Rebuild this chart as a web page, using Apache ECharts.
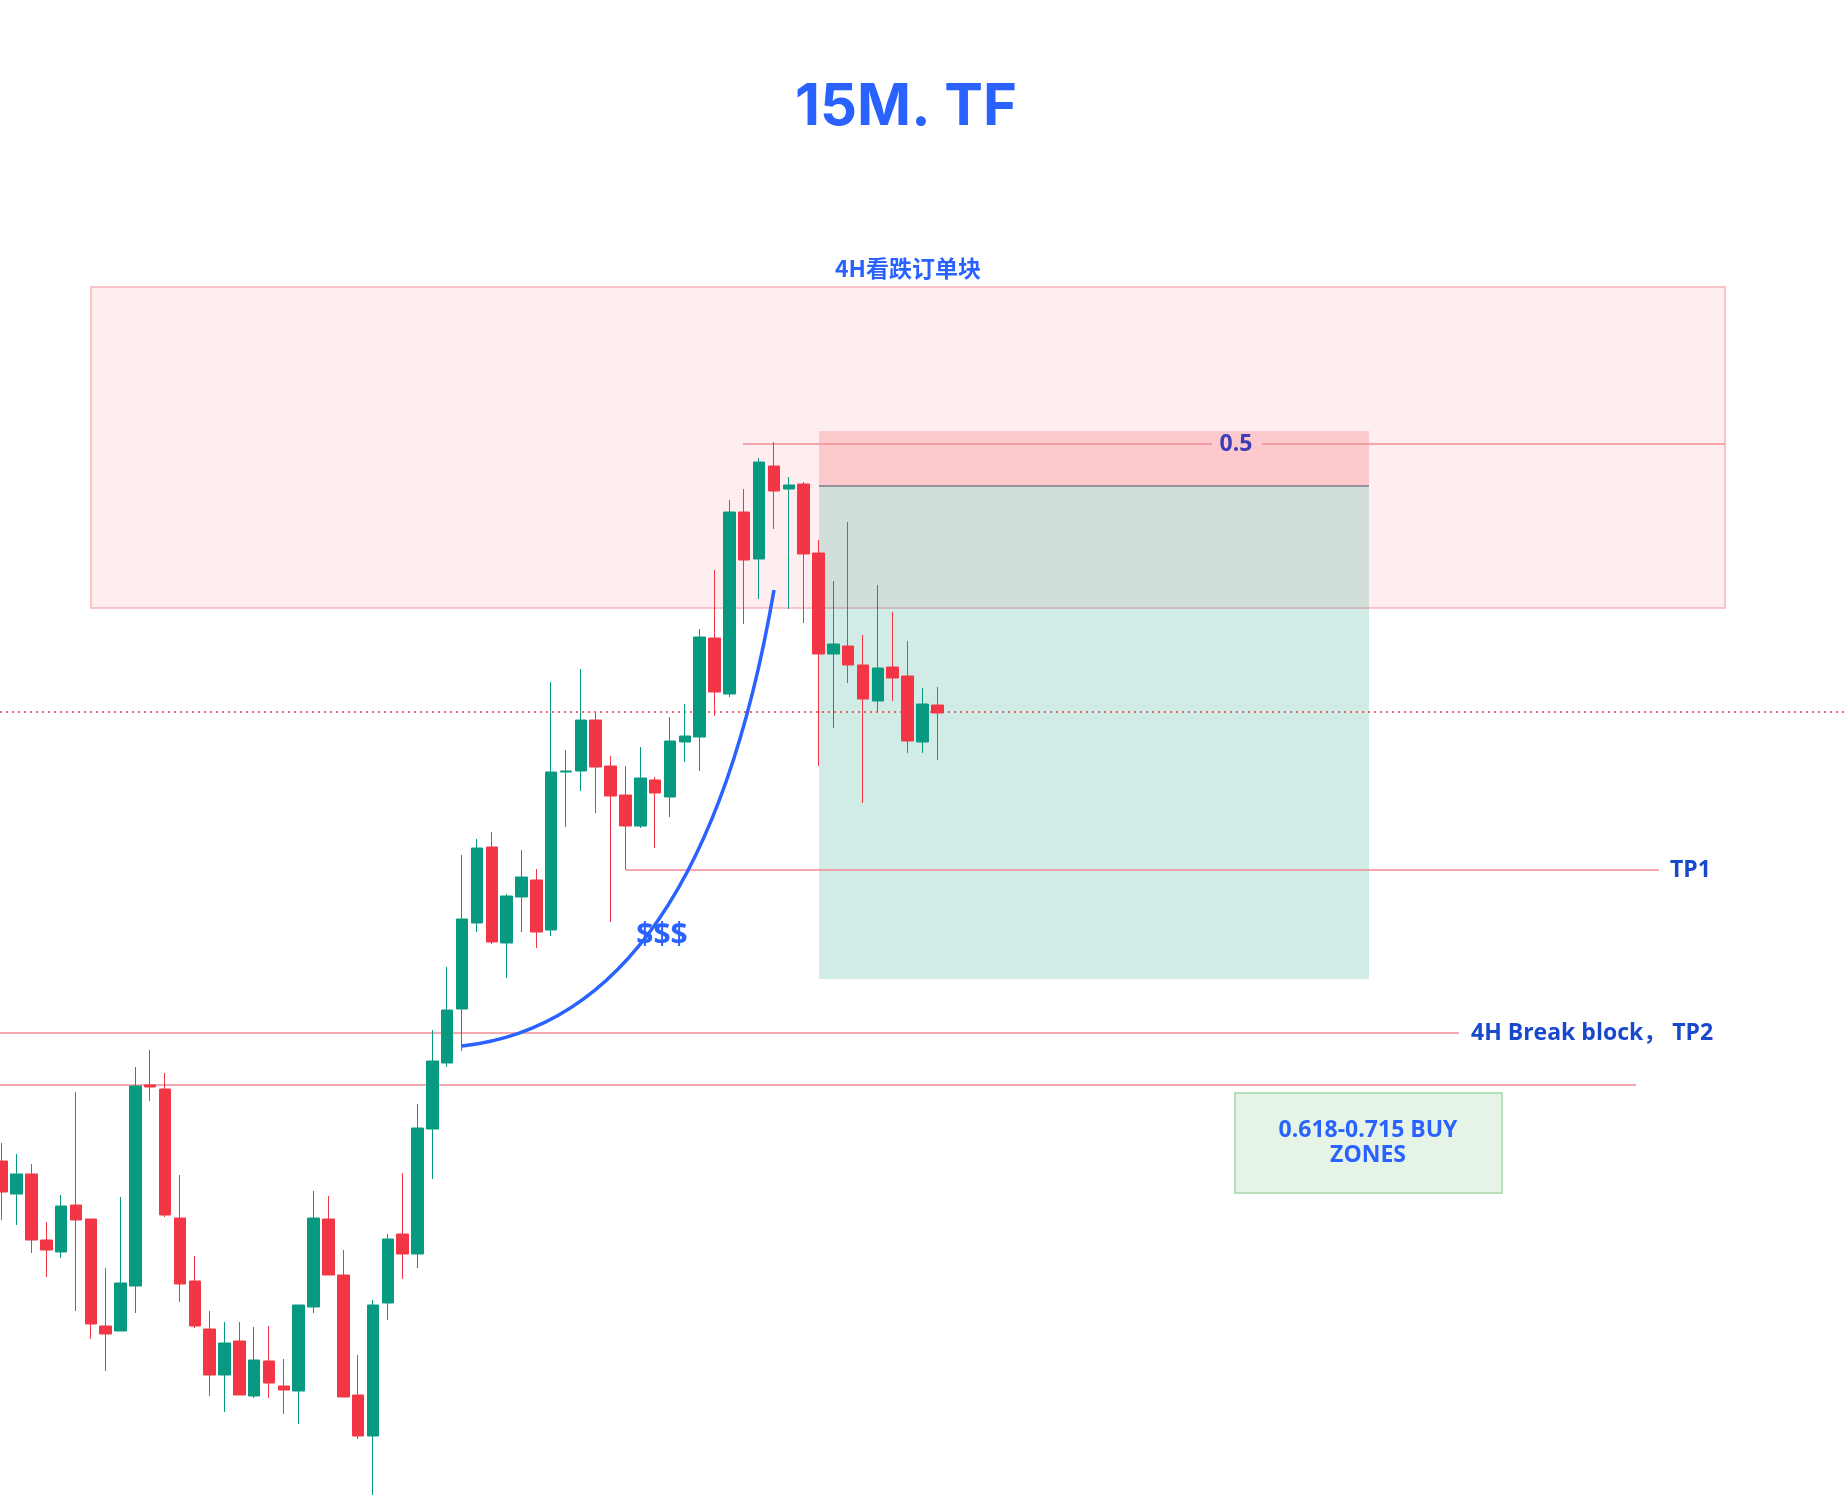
<!DOCTYPE html>
<html>
<head>
<meta charset="utf-8">
<script src="https://cdn.jsdelivr.net/npm/echarts@6/dist/echarts.min.js"></script>
<style>html,body{margin:0;padding:0;background:#fff}#chart{width:1844px;height:1506px}</style>
</head>
<body>
<div id="chart"></div>
<script>
var chart = echarts.init(document.getElementById("chart"));

// [open, close, low, high]
var candles = [
  [345,314,286,363],[312,332,281,352],[332,266,253,342],[266,256,229,284],[254,300,248,311],
  [301,286,195,414],[287,182,167,287],[180,172,135,238],[175,223,175,309],[220,420,193,439],
  [421,419,405,456],[417,291,289,433],[288,222,204,331],[225,180,178,250],[177,131,110,195],
  [131,163,94,184],[165,111,111,184],[110,146,108,179],[145,123,108,180],[120,116,92,147],
  [115,201,82,201],[199,288,193,315],[287,231,231,310],[231,109,109,256],[111,70,67,151],
  [70,201,11,206],[203,267,186,272],[272,252,227,333],[252,378,238,402],[377,445,327,476],
  [443,496,439,539],[497,587,455,651],[583,658,574,667],[659,564,562,674],[563,610,528,612],
  [609,629,574,656],[626,574,558,637],[576,734,570,824],[734,735,679,756],[735,786,715,837],
  [786,739,693,793],[740,710,584,750],[711,680,636,740],[680,728,678,759],[726,713,658,729],
  [709,765,689,789],[764,770,744,802],[769,869,735,877],[868,814,790,936],[812,994,809,1006],
  [994,946,882,1017],[947,1044,907,1048],[1040,1015,977,1064],[1017,1021,897,1029],[1022,952,883,1024],
  [953,852,740,966],[852,862,778,925],[860,841,823,984],[841,807,703,871],[805,838,794,921],
  [839,828,805,894],[830,765,753,865],[764,802,753,818],[801,793,746,819]
];
var slots = 124;
var categories = [];
for (var i = 0; i < slots; i++) categories.push(String(i));
var seriesData = candles.slice();
while (seriesData.length < slots) seriesData.push('-');

var blue = "#2962ff";
var pinkLine = "#f28b95";

var option = {
  backgroundColor: "#fff",
  animation: false,
  grid: { left: 1.7, right: 15.7, top: 0, bottom: 0 },
  xAxis: { type: "category", data: categories, show: false, boundaryGap: false },
  yAxis: { type: "value", min: 0, max: 1506, show: false },
  series: [{
    type: "candlestick",
    data: seriesData,
    barWidth: 12,
    clip: false,
    z: 5,
    itemStyle: { color: "#089981", color0: "#f23645", borderColor: "#089981", borderColor0: "#f23645", borderWidth: 1 }
  }],
  graphic: [
    { type: "rect", z: 1, shape: { x: 91, y: 287, width: 1634, height: 321 },
      style: { fill: "rgba(255,205,210,0.35)", stroke: "#f9b5bc", lineWidth: 1.5 } },
    { type: "rect", z: 2, shape: { x: 819, y: 431, width: 550, height: 55 },
      style: { fill: "rgba(242,54,69,0.2)" } },
    { type: "rect", z: 2, shape: { x: 819, y: 486, width: 550, height: 493 },
      style: { fill: "rgba(8,153,129,0.19)" } },
    { type: "line", z: 3, shape: { x1: 819, y1: 486, x2: 1369, y2: 486 },
      style: { stroke: "#787b86", lineWidth: 1.5 } },
    { type: "line", z: 3, shape: { x1: 743, y1: 444, x2: 1212, y2: 444 }, style: { stroke: pinkLine, lineWidth: 1.5 } },
    { type: "line", z: 3, shape: { x1: 1262, y1: 444, x2: 1725, y2: 444 }, style: { stroke: pinkLine, lineWidth: 1.5 } },
    { type: "text", z: 6, x: 1236, y: 444, style: { text: "0.5", fill: "#3d3db5", font: "bold 23px 'Open Sans', sans-serif", align: "center", verticalAlign: "middle" } },
    { type: "line", z: 3, shape: { x1: 0, y1: 712, x2: 1844, y2: 712 }, style: { stroke: "#f23645", lineWidth: 1.5, lineDash: [2, 4] } },
    { type: "line", z: 3, shape: { x1: 626, y1: 870, x2: 1659, y2: 870 }, style: { stroke: pinkLine, lineWidth: 1.5 } },
    { type: "text", z: 6, x: 1670, y: 870, style: { text: "TP1", fill: "#1848cc", font: "bold 23px 'Open Sans', sans-serif", verticalAlign: "middle" } },
    { type: "line", z: 3, shape: { x1: 0, y1: 1033, x2: 1459, y2: 1033 }, style: { stroke: pinkLine, lineWidth: 1.5 } },
    { type: "text", z: 6, x: 1471, y: 1033, style: { text: "4H Break block， TP2", fill: "#1848cc", font: "bold 23px 'Open Sans', 'Noto Sans CJK SC', sans-serif", verticalAlign: "middle" } },
    { type: "line", z: 3, shape: { x1: 0, y1: 1085, x2: 1636, y2: 1085 }, style: { stroke: pinkLine, lineWidth: 1.5 } },
    { type: "rect", z: 2, shape: { x: 1235, y: 1093, width: 267, height: 100 },
      style: { fill: "#e6f4e7", stroke: "#a5d6a7", lineWidth: 1.5 } },
    { type: "text", z: 6, x: 1368, y: 1143, style: { text: "0.618-0.715 BUY\nZONES", fill: blue, font: "bold 23px 'Open Sans', sans-serif", align: "center", verticalAlign: "middle", lineHeight: 25 } },
    { type: "bezierCurve", z: 6, shape: { x1: 462, y1: 1046, x2: 774, y2: 590, cpx1: 700, cpy1: 1020 },
      style: { stroke: blue, lineWidth: 3.5, fill: null } },
    { type: "text", z: 6, x: 662, y: 935, style: { text: "$$$", fill: blue, font: "bold 30px 'Open Sans', sans-serif", align: "center", verticalAlign: "middle" } },
    { type: "text", z: 6, x: 906, y: 108, style: { text: "15M. TF", fill: blue, font: "bold 58px Inter, 'Open Sans', sans-serif", align: "center", verticalAlign: "middle" } },
    { type: "text", z: 6, x: 908, y: 268, style: { text: "4H看跌订单块", fill: blue, font: "bold 23px 'Noto Sans CJK SC', sans-serif", align: "center", verticalAlign: "middle" } }
  ]
};
chart.setOption(option);
</script>
</body>
</html>
